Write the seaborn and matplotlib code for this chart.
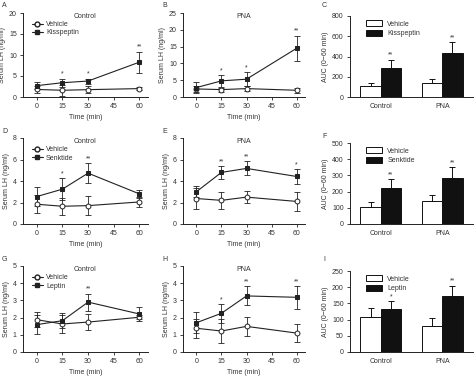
import pandas as pd
import matplotlib
matplotlib.use("Agg")
import matplotlib.pyplot as plt
import seaborn as sns
from matplotlib.patches import Patch
from matplotlib.lines import Line2D

# --- data ---
TIME = [0, 15, 30, 60]

# A / B : kisspeptin
a_veh = [1.8, 1.6, 1.75, 2.0]
a_veh_err = [0.8, 1.3, 0.8, 0.4]
a_trt = [2.7, 3.4, 3.8, 8.3]
a_trt_err = [0.9, 1.0, 0.6, 2.5]
a_stars = ["", "*", "*", "**"]

b_veh = [2.4, 2.2, 2.5, 2.0]
b_veh_err = [0.8, 0.6, 0.7, 0.7]
b_trt = [2.8, 4.8, 5.3, 14.5]
b_trt_err = [1.6, 1.7, 2.0, 3.8]
b_stars = ["", "*", "*", "**"]

c_groups = ["Control", "PNA"]
c_veh = [106, 139]
c_veh_err = [33, 36]
c_trt = [288, 436]
c_trt_err = [82, 103]
c_stars = ["**", "**"]

# D / E : senktide
d_veh = [1.84, 1.65, 1.71, 2.05]
d_veh_err = [0.85, 0.8, 0.85, 0.5]
d_trt = [2.55, 3.24, 4.73, 2.8]
d_trt_err = [0.9, 1.0, 0.9, 0.4]
d_stars = ["", "*", "**", ""]

e_veh = [2.37, 2.2, 2.5, 2.1]
e_veh_err = [0.95, 0.8, 0.55, 0.85]
e_trt = [3.0, 4.8, 5.17, 4.42]
e_trt_err = [0.5, 0.6, 0.65, 0.7]
e_stars = ["", "**", "**", "*"]

f_veh = [107, 140]
f_veh_err = [31, 36]
f_trt = [221, 283]
f_trt_err = [56, 66]
f_stars = ["**", "**"]

# G / H : leptin
g_veh = [1.88, 1.63, 1.74, 2.02]
g_veh_err = [0.45, 0.55, 0.45, 0.12]
g_trt = [1.59, 1.82, 2.9, 2.21]
g_trt_err = [0.55, 0.45, 0.5, 0.4]
g_stars = ["", "", "**", ""]

h_veh = [1.38, 1.22, 1.49, 1.1]
h_veh_err = [0.55, 0.7, 0.55, 0.52]
h_trt = [1.7, 2.25, 3.26, 3.18]
h_trt_err = [0.6, 0.55, 0.55, 0.67]
h_stars = ["", "*", "**", "**"]

i_veh = [108, 80]
i_veh_err = [29, 24]
i_trt = [132, 172]
i_trt_err = [25, 33]
i_stars = ["*", "**"]

TREATMENTS = ["Kisspeptin", "Senktide", "Leptin"]

sns.set_style("ticks")
plt.rcParams["font.family"] = ["Liberation Sans", "DejaVu Sans"]
FS = 5
TXT = "#333333"

W, H = 474, 377
fig = plt.figure(figsize=(W / 100, H / 100), dpi=100)


def add_ax(left, top, width, bottom):
    return fig.add_axes([left / W, (H - bottom) / H, width / W, (bottom - top) / H])


def style(ax):
    sns.despine(ax=ax)
    for s in ["left", "bottom"]:
        ax.spines[s].set_linewidth(0.7)
        ax.spines[s].set_color("#222222")
    ax.tick_params(labelsize=FS, width=0.6, length=2.5, colors="#222222", labelcolor=TXT, pad=2)


def line_panel(ax, veh, veh_err, trt, trt_err, stars, trt_name, title, ymax, ystep, legend):
    ax.errorbar(TIME, veh, yerr=veh_err, fmt="none", ecolor="#222222", elinewidth=0.6, capsize=2, capthick=0.6)
    ax.errorbar(TIME, trt, yerr=trt_err, fmt="none", ecolor="#222222", elinewidth=0.6, capsize=2, capthick=0.6)
    sns.lineplot(x=TIME, y=veh, ax=ax, color="#222222", marker="o", markerfacecolor="white",
                 markeredgecolor="#222222", markeredgewidth=0.7, markersize=3.5, linewidth=0.8)
    sns.lineplot(x=TIME, y=trt, ax=ax, color="#222222", marker="s", markerfacecolor="#222222",
                 markeredgecolor="#222222", markersize=3, linewidth=0.8)
    for t, m, e, s in zip(TIME, trt, trt_err, stars):
        if s:
            ax.text(t, m + e + ymax * 0.01, s, ha="center", va="bottom", fontsize=FS, color=TXT)
    ax.set_xlim(-8, 65)
    ax.set_ylim(0, ymax)
    ax.set_xticks([0, 15, 30, 45, 60])
    ax.set_yticks(range(0, ymax + 1, ystep))
    ax.set_xlabel("Time (min)", fontsize=FS, color=TXT, labelpad=3)
    ax.set_ylabel("Serum LH (ng/ml)", fontsize=FS, color=TXT, labelpad=2)
    ax.text(0.5, 1.0, title, transform=ax.transAxes, ha="center", va="top", fontsize=FS, color=TXT)
    style(ax)
    if legend:
        handles = [
            Line2D([], [], color="#222222", marker="o", markerfacecolor="white", markersize=3.5, linewidth=0.8),
            Line2D([], [], color="#222222", marker="s", markerfacecolor="#222222", markersize=3, linewidth=0.8),
        ]
        ax.legend(handles, ["Vehicle", trt_name], loc="upper left", bbox_to_anchor=(0.04, 0.95),
                  fontsize=FS, frameon=False, handlelength=1.5, handletextpad=0.5,
                  labelspacing=0.15, borderaxespad=0.2, labelcolor=TXT)


def bar_panel(ax, veh, veh_err, trt, trt_err, stars, trt_name, ymax, ystep):
    df = pd.DataFrame({
        "group": c_groups * 2,
        "treatment": ["Vehicle"] * 2 + [trt_name] * 2,
        "auc": veh + trt,
    })
    sns.barplot(data=df, x="group", y="auc", hue="treatment", ax=ax,
                palette={"Vehicle": "white", trt_name: "#111111"}, edgecolor="#111111",
                linewidth=0.7, width=0.66, errorbar=None, legend=False)
    for cont, errs, st in zip(ax.containers, [veh_err, trt_err], [None, stars]):
        for k, bar in enumerate(cont):
            cx = bar.get_x() + bar.get_width() / 2
            top = bar.get_height()
            ax.errorbar([cx], [top], yerr=[[0], [errs[k]]], fmt="none", ecolor="#111111",
                        elinewidth=0.7, capsize=2.5, capthick=0.7)
            if st:
                ax.text(cx, top + errs[k] + ymax * 0.01, st[k], ha="center", va="bottom",
                        fontsize=FS, color=TXT)
    ax.set_xlim(-0.5, 1.5)
    ax.set_ylim(0, ymax)
    ax.set_yticks(range(0, ymax + 1, ystep))
    ax.set_xlabel("")
    ax.set_ylabel("AUC (0\u221260 min)", fontsize=FS, color=TXT, labelpad=2)
    style(ax)
    ax.tick_params(axis="x", length=0, pad=4)
    handles = [Patch(facecolor="white", edgecolor="#111111", linewidth=0.7),
               Patch(facecolor="#111111", edgecolor="#111111", linewidth=0.7)]
    ax.legend(handles, ["Vehicle", trt_name], loc="upper left", bbox_to_anchor=(0.1, 1.0),
              fontsize=FS, frameon=False, handlelength=2.2, handleheight=1.0,
              labelspacing=0.3, borderaxespad=0.2, labelcolor=TXT)


rows = [(13, 97), (138, 224), (266, 352)]

# row 1
axA = add_ax(23, rows[0][0], 125, rows[0][1])
line_panel(axA, a_veh, a_veh_err, a_trt, a_trt_err, a_stars, TREATMENTS[0], "Control", 20, 5, True)
axB = add_ax(183, rows[0][0], 122, rows[0][1])
line_panel(axB, b_veh, b_veh_err, b_trt, b_trt_err, b_stars, TREATMENTS[0], "PNA", 25, 5, False)
axC = add_ax(350, rows[0][0] + 3, 123, rows[0][1])
bar_panel(axC, c_veh, c_veh_err, c_trt, c_trt_err, c_stars, TREATMENTS[0], 800, 200)

# row 2
axD = add_ax(23, rows[1][0], 125, rows[1][1])
line_panel(axD, d_veh, d_veh_err, d_trt, d_trt_err, d_stars, TREATMENTS[1], "Control", 8, 2, True)
axE = add_ax(183, rows[1][0], 122, rows[1][1])
line_panel(axE, e_veh, e_veh_err, e_trt, e_trt_err, e_stars, TREATMENTS[1], "PNA", 8, 2, False)
axF = add_ax(350, rows[1][0] + 5, 123, rows[1][1])
bar_panel(axF, f_veh, f_veh_err, f_trt, f_trt_err, f_stars, TREATMENTS[1], 500, 100)

# row 3
axG = add_ax(23, rows[2][0], 125, rows[2][1])
line_panel(axG, g_veh, g_veh_err, g_trt, g_trt_err, g_stars, TREATMENTS[2], "Control", 5, 1, True)
axH = add_ax(183, rows[2][0], 122, rows[2][1])
line_panel(axH, h_veh, h_veh_err, h_trt, h_trt_err, h_stars, TREATMENTS[2], "PNA", 5, 1, False)
axI = add_ax(350, rows[2][0] + 5, 123, rows[2][1])
bar_panel(axI, i_veh, i_veh_err, i_trt, i_trt_err, i_stars, TREATMENTS[2], 250, 50)

# panel letters
letters = [("A", 2, 2), ("B", 162, 2), ("C", 322, 2),
           ("D", 2, 128), ("E", 162, 128), ("F", 322, 133),
           ("G", 2, 256), ("H", 162, 256), ("I", 323, 256)]
for lab, x, y in letters:
    fig.text(x / W, 1 - y / H, lab, ha="left", va="top", fontsize=FS, color=TXT)

fig.savefig("out.png", dpi=100)
